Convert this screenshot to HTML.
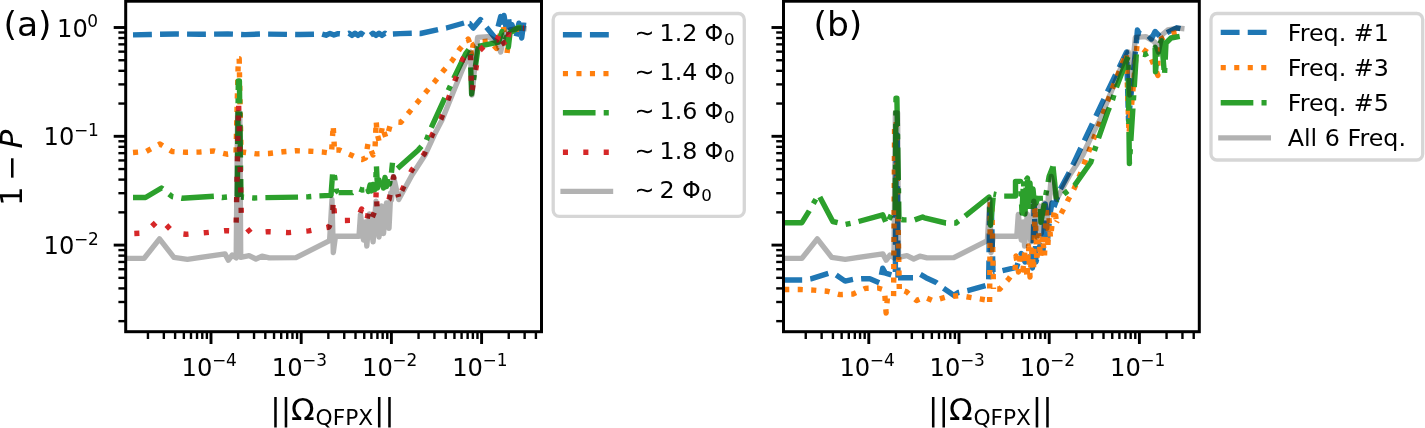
<!DOCTYPE html>
<html><head><meta charset="utf-8"><title>figure</title>
<style>html,body{margin:0;padding:0;background:#fff}svg{display:block}</style></head>
<body>
<svg width="1425" height="428" viewBox="0 0 1425 428" font-family='"DejaVu Sans","Liberation Sans",sans-serif' fill="#000">
<rect width="1425" height="428" fill="#fff"/>
<clipPath id="c125"><rect x="125.7" y="1.2" width="415.8" height="330.5"/></clipPath>
<g clip-path="url(#c125)" fill="none" stroke-width="5.4" stroke-linejoin="round">
<polyline points="133.0,34.9 150.0,34.5 175.0,34.0 200.0,34.3 228.0,34.0 245.0,34.6 262.0,34.0 300.0,34.5 322.0,34.0 326.0,35.2 330.0,33.4 334.0,35.0 338.0,33.6 346.0,34.4" stroke="#1f77b4" stroke-dasharray="18.87 8.16" stroke-dashoffset="0.00"/>
<polyline points="346.0,34.4 349.0,33.2 352.0,35.4 355.0,33.2 358.0,35.4 361.0,33.2 364.0,35.4 367.0,33.2 370.0,35.4 373.0,33.2 376.0,35.4 379.0,33.2 382.0,35.4 385.0,33.2 388.0,35.4 392.0,34.0 400.0,33.6 412.0,33.3" stroke="#1f77b4" stroke-dasharray="18.87 8.16" stroke-dashoffset="24.34"/>
<polyline points="412.0,33.3 420.4,33.5 438.6,29.4 446.3,28.0 464.0,23.0" stroke="#1f77b4" stroke-dasharray="18.87 8.16" stroke-dashoffset="19.43"/>
<polyline points="464.0,23.0 469.5,23.4 473.3,28.1 480.5,19.5 486.0,26.7 495.8,38.7 497.9,27.4 500.7,16.5 502.0,26.0 504.0,15.5 506.0,27.0 508.4,17.5 510.0,28.0 511.9,24.6 516.1,37.3 518.9,23.2 521.7,38.0 523.8,22.5" stroke="#1f77b4" stroke-dasharray="18.87 8.16" stroke-dashoffset="21.52"/>
<polyline points="133.0,152.5 146.0,151.5 160.0,144.0 172.0,151.5 186.0,152.3 200.0,152.0 214.0,151.0 227.0,154.2 236.0,153.0 238.3,58.8 239.2,58.8 241.0,152.0" stroke="#ff7f0e" stroke-dasharray="5.10 8.41" stroke-dashoffset="0.00"/>
<polyline points="241.0,152.0 243.5,152.2 257.0,153.9 269.0,153.5 283.0,151.8 296.0,150.7 310.0,151.2 323.4,152.1 331.5,153.2 333.2,125.3 334.5,150.0" stroke="#ff7f0e" stroke-dasharray="5.10 8.41" stroke-dashoffset="13.48"/>
<polyline points="334.5,150.0 339.2,149.9 351.5,155.2 359.4,159.1 362.0,159.5 365.5,158.0 368.0,143.5 371.0,150.0 373.0,155.0 375.1,146.5 376.2,121.0 377.0,133.0 379.0,141.0 380.5,138.0 382.4,126.0 384.0,132.0 386.0,138.0 388.0,133.0 390.0,126.0 391.9,121.8" stroke="#ff7f0e" stroke-dasharray="5.10 8.41" stroke-dashoffset="11.65"/>
<polyline points="391.9,121.8 400.9,122.3 409.4,112.0 417.9,101.8 426.4,91.6 435.0,81.3 443.5,70.6 452.0,60.9 459.7,49.0 468.2,39.1 470.5,45.0 471.5,56.0 473.0,45.0 478.0,42.0 490.0,41.0 496.5,48.5 500.0,35.0 503.5,26.7 507.0,53.4 510.0,30.0 521.7,28.8 524.0,28.0" stroke="#ff7f0e" stroke-dasharray="5.10 8.41" stroke-dashoffset="7.00"/>
<polyline points="133.0,197.5 145.5,197.5 161.5,188.0 172.0,196.5 182.0,198.3 214.0,196.2 222.0,197.5 233.0,196.5 237.3,196.0 238.3,81.0 239.4,81.0 241.0,197.0" stroke="#2ca02c" stroke-dasharray="32.64 8.16 5.10 8.16" stroke-dashoffset="0.00"/>
<polyline points="241.0,197.0 254.0,198.0 265.0,197.6 297.6,197.1 308.3,196.8 319.3,195.9 331.0,195.4 332.8,171.0 334.7,177.0 336.4,190.3 338.6,192.6" stroke="#2ca02c" stroke-dasharray="32.64 8.16 5.10 8.16" stroke-dashoffset="29.61"/>
<polyline points="338.6,192.6 352.6,192.6 358.2,188.6 362.0,190.0 365.5,189.8 367.0,186.0 368.5,191.5 370.0,185.0 371.5,191.0 373.0,184.5 374.5,190.0 375.5,186.0 376.4,165.2 377.5,188.0 379.0,180.0 380.5,189.0 382.0,178.5 383.5,188.0 385.0,177.5 386.5,186.5 388.0,176.5 389.5,184.0 391.0,177.0 392.5,162.8" stroke="#2ca02c" stroke-dasharray="32.64 8.16 5.10 8.16" stroke-dashoffset="18.60"/>
<polyline points="392.5,162.8 397.5,168.4 418.3,149.9 425.8,141.5 430.5,129.3 454.6,76.6 465.7,53.6 470.0,48.0 471.6,94.0 478.2,46.4" stroke="#2ca02c" stroke-dasharray="32.64 8.16 5.10 8.16" stroke-dashoffset="46.55"/>
<polyline points="478.2,46.4 498.6,42.2 502.0,31.6 505.0,40.0 507.7,34.5 508.4,47.0 510.0,33.0 518.2,27.4 524.0,27.5" stroke="#2ca02c" stroke-dasharray="32.64 8.16 5.10 8.16" stroke-dashoffset="0.00"/>
<polyline points="134.3,233.5 145.0,233.0 160.0,218.5 174.0,233.0 186.0,234.3 206.0,232.6 226.0,230.6 236.0,231.0 238.6,103.0 241.5,222.0" stroke="#d62728" stroke-dasharray="5.10 15.30" stroke-dashoffset="0.00"/>
<polyline points="241.5,222.0 251.0,233.0 268.0,231.7 288.6,232.6 308.8,230.9 329.0,227.0 332.5,219.0 333.3,199.0 334.5,215.0 337.5,220.6 357.1,220.3 361.6,209.0 364.0,215.0 366.7,221.4 368.9,209.4 371.7,218.6 375.7,209.0 376.2,189.2 377.0,207.0 382.4,206.2 385.0,203.0 389.1,199.5 393.5,177.0 398.7,197.0" stroke="#d62728" stroke-dasharray="5.10 15.30" stroke-dashoffset="11.62"/>
<polyline points="398.7,197.0 411.8,170.1 424.5,153.6 432.3,134.6 441.0,119.0 462.8,59.0 470.5,49.9 471.6,93.0 478.9,51.3 489.5,40.8 497.0,40.0 500.7,31.0 502.0,40.0 507.0,48.5 509.1,31.0 520.0,28.0 524.0,28.0" stroke="#d62728" stroke-dasharray="5.10 15.30" stroke-dashoffset="13.39"/>
<polyline points="126.0,258.4 144.1,258.4 159.5,238.8 173.9,257.3 187.4,259.3 225.0,253.9 228.4,260.1 232.3,255.0 236.2,257.9 237.6,113.0 239.8,113.0 240.7,257.3 249.1,255.6 255.9,259.0 262.0,256.2 269.3,257.9 296.0,257.6 329.6,240.7 332.0,199.5 333.3,252.5 335.5,236.0 359.0,236.2 360.5,214.5 363.5,240.0 365.5,222.0 366.8,246.0 369.5,214.0 373.1,241.9 376.0,201.2 379.0,237.0 381.5,206.0 383.5,233.5 386.5,203.0 389.0,228.4 390.7,193.0 391.5,200.0 393.5,176.5 398.7,199.5 412.0,175.0 425.0,155.0 434.2,135.0 442.0,120.0 463.0,68.0 470.5,52.0 472.0,95.0 477.6,37.4 488.0,36.6 497.0,42.0 500.7,52.0 504.0,35.0 510.0,30.0 520.3,28.1 524.0,28.5" stroke="rgba(0,0,0,0.3)" stroke-linecap="square"/>
</g>
<g stroke="#000"><line x1="147.95" y1="331.7" x2="147.95" y2="339.00" stroke-width="2.4"/><line x1="163.84" y1="331.7" x2="163.84" y2="339.00" stroke-width="2.4"/><line x1="175.11" y1="331.7" x2="175.11" y2="339.00" stroke-width="2.4"/><line x1="183.85" y1="331.7" x2="183.85" y2="339.00" stroke-width="2.4"/><line x1="190.99" y1="331.7" x2="190.99" y2="339.00" stroke-width="2.4"/><line x1="197.03" y1="331.7" x2="197.03" y2="339.00" stroke-width="2.4"/><line x1="202.26" y1="331.7" x2="202.26" y2="339.00" stroke-width="2.4"/><line x1="206.87" y1="331.7" x2="206.87" y2="339.00" stroke-width="2.4"/><line x1="211.00" y1="331.7" x2="211.00" y2="344.00" stroke-width="2.9"/><line x1="238.15" y1="331.7" x2="238.15" y2="339.00" stroke-width="2.4"/><line x1="254.04" y1="331.7" x2="254.04" y2="339.00" stroke-width="2.4"/><line x1="265.31" y1="331.7" x2="265.31" y2="339.00" stroke-width="2.4"/><line x1="274.05" y1="331.7" x2="274.05" y2="339.00" stroke-width="2.4"/><line x1="281.19" y1="331.7" x2="281.19" y2="339.00" stroke-width="2.4"/><line x1="287.23" y1="331.7" x2="287.23" y2="339.00" stroke-width="2.4"/><line x1="292.46" y1="331.7" x2="292.46" y2="339.00" stroke-width="2.4"/><line x1="297.07" y1="331.7" x2="297.07" y2="339.00" stroke-width="2.4"/><line x1="301.20" y1="331.7" x2="301.20" y2="344.00" stroke-width="2.9"/><line x1="328.35" y1="331.7" x2="328.35" y2="339.00" stroke-width="2.4"/><line x1="344.24" y1="331.7" x2="344.24" y2="339.00" stroke-width="2.4"/><line x1="355.51" y1="331.7" x2="355.51" y2="339.00" stroke-width="2.4"/><line x1="364.25" y1="331.7" x2="364.25" y2="339.00" stroke-width="2.4"/><line x1="371.39" y1="331.7" x2="371.39" y2="339.00" stroke-width="2.4"/><line x1="377.43" y1="331.7" x2="377.43" y2="339.00" stroke-width="2.4"/><line x1="382.66" y1="331.7" x2="382.66" y2="339.00" stroke-width="2.4"/><line x1="387.27" y1="331.7" x2="387.27" y2="339.00" stroke-width="2.4"/><line x1="391.40" y1="331.7" x2="391.40" y2="344.00" stroke-width="2.9"/><line x1="418.55" y1="331.7" x2="418.55" y2="339.00" stroke-width="2.4"/><line x1="434.44" y1="331.7" x2="434.44" y2="339.00" stroke-width="2.4"/><line x1="445.71" y1="331.7" x2="445.71" y2="339.00" stroke-width="2.4"/><line x1="454.45" y1="331.7" x2="454.45" y2="339.00" stroke-width="2.4"/><line x1="461.59" y1="331.7" x2="461.59" y2="339.00" stroke-width="2.4"/><line x1="467.63" y1="331.7" x2="467.63" y2="339.00" stroke-width="2.4"/><line x1="472.86" y1="331.7" x2="472.86" y2="339.00" stroke-width="2.4"/><line x1="477.47" y1="331.7" x2="477.47" y2="339.00" stroke-width="2.4"/><line x1="481.60" y1="331.7" x2="481.60" y2="344.00" stroke-width="2.9"/><line x1="508.75" y1="331.7" x2="508.75" y2="339.00" stroke-width="2.4"/><line x1="524.64" y1="331.7" x2="524.64" y2="339.00" stroke-width="2.4"/><line x1="535.91" y1="331.7" x2="535.91" y2="339.00" stroke-width="2.4"/><line x1="125.7" y1="321.15" x2="118.40" y2="321.15" stroke-width="2.4"/><line x1="125.7" y1="301.99" x2="118.40" y2="301.99" stroke-width="2.4"/><line x1="125.7" y1="288.40" x2="118.40" y2="288.40" stroke-width="2.4"/><line x1="125.7" y1="277.85" x2="118.40" y2="277.85" stroke-width="2.4"/><line x1="125.7" y1="269.24" x2="118.40" y2="269.24" stroke-width="2.4"/><line x1="125.7" y1="261.95" x2="118.40" y2="261.95" stroke-width="2.4"/><line x1="125.7" y1="255.64" x2="118.40" y2="255.64" stroke-width="2.4"/><line x1="125.7" y1="250.08" x2="118.40" y2="250.08" stroke-width="2.4"/><line x1="125.7" y1="245.10" x2="113.70" y2="245.10" stroke-width="2.9"/><line x1="125.7" y1="212.35" x2="118.40" y2="212.35" stroke-width="2.4"/><line x1="125.7" y1="193.19" x2="118.40" y2="193.19" stroke-width="2.4"/><line x1="125.7" y1="179.60" x2="118.40" y2="179.60" stroke-width="2.4"/><line x1="125.7" y1="169.05" x2="118.40" y2="169.05" stroke-width="2.4"/><line x1="125.7" y1="160.44" x2="118.40" y2="160.44" stroke-width="2.4"/><line x1="125.7" y1="153.15" x2="118.40" y2="153.15" stroke-width="2.4"/><line x1="125.7" y1="146.84" x2="118.40" y2="146.84" stroke-width="2.4"/><line x1="125.7" y1="141.28" x2="118.40" y2="141.28" stroke-width="2.4"/><line x1="125.7" y1="136.30" x2="113.70" y2="136.30" stroke-width="2.9"/><line x1="125.7" y1="103.55" x2="118.40" y2="103.55" stroke-width="2.4"/><line x1="125.7" y1="84.39" x2="118.40" y2="84.39" stroke-width="2.4"/><line x1="125.7" y1="70.80" x2="118.40" y2="70.80" stroke-width="2.4"/><line x1="125.7" y1="60.25" x2="118.40" y2="60.25" stroke-width="2.4"/><line x1="125.7" y1="51.64" x2="118.40" y2="51.64" stroke-width="2.4"/><line x1="125.7" y1="44.35" x2="118.40" y2="44.35" stroke-width="2.4"/><line x1="125.7" y1="38.04" x2="118.40" y2="38.04" stroke-width="2.4"/><line x1="125.7" y1="32.48" x2="118.40" y2="32.48" stroke-width="2.4"/><line x1="125.7" y1="27.50" x2="113.70" y2="27.50" stroke-width="2.9"/></g>
<rect x="125.7" y="1.2" width="415.8" height="330.5" fill="none" stroke="#000" stroke-width="3.0"/>
<text x="181.6" y="375.6" font-size="24.2">10</text>
<text x="211.9" y="366.2" font-size="16.94">−4</text>
<text x="271.8" y="375.6" font-size="24.2">10</text>
<text x="302.1" y="366.2" font-size="16.94">−3</text>
<text x="362.0" y="375.6" font-size="24.2">10</text>
<text x="392.3" y="366.2" font-size="16.94">−2</text>
<text x="452.2" y="375.6" font-size="24.2">10</text>
<text x="482.5" y="366.2" font-size="16.94">−1</text>
<clipPath id="c783"><rect x="783.5" y="1.2" width="415.79999999999995" height="330.5"/></clipPath>
<g clip-path="url(#c783)" fill="none" stroke-width="5.4" stroke-linejoin="round">
<polyline points="783.3,280.0 802.5,280.0 810.9,278.8 828.8,273.2 836.1,274.9 845.1,281.1 853.0,279.4 861.4,278.8 869.8,278.8 879.4,282.8 881.1,276.6 882.7,268.2 885.5,273.2 893.4,275.5 895.3,276.0 896.3,135.0 897.2,135.0 898.0,277.7" stroke="#1f77b4" stroke-dasharray="18.87 8.16" stroke-dashoffset="0.00"/>
<polyline points="898.0,277.7 913.6,277.7 920.4,274.4 926.0,277.7 935.7,282.2 942.5,287.5 953.7,295.3 958.2,292.5 967.7,290.6 986.0,285.5 988.6,284.0 989.8,201.0 991.2,201.0 993.0,272.0" stroke="#1f77b4" stroke-dasharray="18.87 8.16" stroke-dashoffset="3.87"/>
<polyline points="993.0,272.0 1002.5,270.7 1016.5,267.4 1021.3,253.5 1025.0,262.0 1029.0,257.0 1032.5,268.0 1034.2,204.0 1036.0,262.0 1040.0,245.0 1043.0,252.0 1045.3,204.0 1047.0,246.0 1050.0,214.0 1052.0,203.0 1054.0,207.0" stroke="#1f77b4" stroke-dasharray="18.87 8.16" stroke-dashoffset="17.44"/>
<polyline points="1054.0,207.0 1060.4,189.1 1069.9,171.1 1110.1,86.1 1126.6,52.0 1128.5,120.0 1136.6,40.0 1137.4,30.0 1139.0,33.0 1147.7,35.2 1151.4,39.0 1155.1,31.5 1159.8,36.2 1165.4,33.4 1176.6,27.8 1180.4,28.7" stroke="#1f77b4" stroke-dasharray="18.87 8.16" stroke-dashoffset="8.02"/>
<polyline points="784.2,289.5 800.0,289.5 813.5,290.1 826.9,291.2 840.1,294.6 853.0,294.0 865.3,288.4 877.9,288.0 884.5,290.0 886.1,313.0 887.5,297.0 893.6,297.2 894.6,122.0 896.2,122.0 899.3,289.0" stroke="#ff7f0e" stroke-dasharray="5.10 8.41" stroke-dashoffset="0.00"/>
<polyline points="899.3,289.0 906.6,291.8 916.5,300.5 924.2,297.1 933.2,300.8 946.1,297.0 959.3,295.6 972.8,297.8 985.1,299.8 989.6,304.0 990.3,201.0 991.8,201.0 993.5,289.0" stroke="#ff7f0e" stroke-dasharray="5.10 8.41" stroke-dashoffset="7.94"/>
<polyline points="993.5,289.0 999.7,289.1 1008.7,279.0 1015.0,270.0 1016.0,256.0 1018.5,272.0 1021.0,252.0 1023.0,270.0 1025.0,250.0 1027.0,278.0 1028.5,246.0 1030.0,277.0 1032.0,250.0 1033.5,270.0 1035.0,206.0 1036.8,262.0 1038.5,232.0 1040.5,258.0 1042.5,236.0 1044.5,256.0 1046.2,206.0 1047.8,248.0 1049.0,218.0 1050.5,238.0 1052.0,225.0 1054.8,209.2 1056.5,222.3" stroke="#ff7f0e" stroke-dasharray="5.10 8.41" stroke-dashoffset="9.81"/>
<polyline points="1056.5,222.3 1062.2,211.6 1067.9,200.2 1074.5,187.9 1079.3,176.4 1098.6,125.8 1112.7,87.7 1126.3,53.0 1129.0,134.0 1137.0,45.0 1149.5,53.9 1157.9,75.4 1157.9,40.8 1169.2,34.3 1180.4,32.0" stroke="#ff7f0e" stroke-dasharray="5.10 8.41" stroke-dashoffset="3.51"/>
<polyline points="783.3,222.7 801.9,222.7 809.2,210.9 818.5,194.6 832.8,221.5 845.1,224.4 856.4,222.1 882.7,214.8 886.7,224.4 892.3,212.6 895.2,213.0 896.0,98.3 896.9,98.3 899.0,219.0" stroke="#2ca02c" stroke-dasharray="32.64 8.16 5.10 8.16" stroke-dashoffset="0.00"/>
<polyline points="899.0,219.0 903.5,219.9 914.7,219.9 922.6,217.0 924.5,217.9 945.8,223.0 955.9,223.0 964.9,216.2 989.0,197.0 990.5,225.2 993.5,194.0" stroke="#2ca02c" stroke-dasharray="32.64 8.16 5.10 8.16" stroke-dashoffset="38.27"/>
<polyline points="993.5,194.0 1004.1,196.1 1015.5,196.1 1015.5,181.4 1020.5,181.4 1022.0,213.0 1023.5,181.0 1025.0,214.0 1026.5,179.5 1027.5,178.1 1028.5,213.0 1030.0,183.0 1031.5,210.0 1033.0,189.0 1034.5,205.0 1036.0,203.0 1040.1,192.0 1040.9,222.3 1049.1,176.5 1053.0,166.5" stroke="#2ca02c" stroke-dasharray="32.64 8.16 5.10 8.16" stroke-dashoffset="43.15"/>
<polyline points="1053.0,166.5 1056.5,200.5" stroke="#2ca02c" stroke-dasharray="32.64 8.16 5.10 8.16" stroke-dashoffset="54.06"/>
<polyline points="1056.5,200.5 1065.5,192.8 1074.5,185.5 1090.8,162.3 1094.7,149.9 1098.6,137.8 1107.6,112.1 1112.7,99.3 1115.3,90.3 1128.0,56.7 1129.4,163.5 1136.4,53.0 1144.9,54.5 1150.0,52.0 1155.1,47.4 1155.5,71.7 1158.0,46.0 1161.7,40.8 1164.5,75.4 1166.0,43.0 1171.0,38.0 1180.4,36.2" stroke="#2ca02c" stroke-dasharray="32.64 8.16 5.10 8.16" stroke-dashoffset="31.14"/>
<polyline points="783.8,258.4 801.9,258.4 817.3,238.8 831.7,257.3 845.2,259.3 882.8,253.9 886.2,260.1 890.1,255.0 894.0,257.9 895.4,113.0 897.6,113.0 898.5,257.3 906.9,255.6 913.7,259.0 919.8,256.2 927.1,257.9 953.8,257.6 987.4,240.7 989.8,199.5 991.1,252.5 993.3,236.0 1016.8,236.2 1018.3,214.5 1021.3,240.0 1023.3,222.0 1024.6,246.0 1027.3,214.0 1030.9,241.9 1033.8,201.2 1036.8,237.0 1039.3,206.0 1041.3,233.5 1044.3,203.0 1046.8,228.4 1048.5,193.0 1049.3,200.0 1051.3,176.5 1056.5,199.5 1069.8,175.0 1082.8,155.0 1092.0,135.0 1099.8,120.0 1120.8,68.0 1128.3,52.0 1129.8,95.0 1135.4,37.4 1145.8,36.6 1154.8,42.0 1158.5,52.0 1161.8,35.0 1167.8,30.0 1178.1,28.1 1181.8,28.5" stroke="rgba(0,0,0,0.3)" stroke-linecap="square"/>
</g>
<g stroke="#000"><line x1="805.75" y1="331.7" x2="805.75" y2="339.00" stroke-width="2.4"/><line x1="821.64" y1="331.7" x2="821.64" y2="339.00" stroke-width="2.4"/><line x1="832.91" y1="331.7" x2="832.91" y2="339.00" stroke-width="2.4"/><line x1="841.65" y1="331.7" x2="841.65" y2="339.00" stroke-width="2.4"/><line x1="848.79" y1="331.7" x2="848.79" y2="339.00" stroke-width="2.4"/><line x1="854.83" y1="331.7" x2="854.83" y2="339.00" stroke-width="2.4"/><line x1="860.06" y1="331.7" x2="860.06" y2="339.00" stroke-width="2.4"/><line x1="864.67" y1="331.7" x2="864.67" y2="339.00" stroke-width="2.4"/><line x1="868.80" y1="331.7" x2="868.80" y2="344.00" stroke-width="2.9"/><line x1="895.95" y1="331.7" x2="895.95" y2="339.00" stroke-width="2.4"/><line x1="911.84" y1="331.7" x2="911.84" y2="339.00" stroke-width="2.4"/><line x1="923.11" y1="331.7" x2="923.11" y2="339.00" stroke-width="2.4"/><line x1="931.85" y1="331.7" x2="931.85" y2="339.00" stroke-width="2.4"/><line x1="938.99" y1="331.7" x2="938.99" y2="339.00" stroke-width="2.4"/><line x1="945.03" y1="331.7" x2="945.03" y2="339.00" stroke-width="2.4"/><line x1="950.26" y1="331.7" x2="950.26" y2="339.00" stroke-width="2.4"/><line x1="954.87" y1="331.7" x2="954.87" y2="339.00" stroke-width="2.4"/><line x1="959.00" y1="331.7" x2="959.00" y2="344.00" stroke-width="2.9"/><line x1="986.15" y1="331.7" x2="986.15" y2="339.00" stroke-width="2.4"/><line x1="1002.04" y1="331.7" x2="1002.04" y2="339.00" stroke-width="2.4"/><line x1="1013.31" y1="331.7" x2="1013.31" y2="339.00" stroke-width="2.4"/><line x1="1022.05" y1="331.7" x2="1022.05" y2="339.00" stroke-width="2.4"/><line x1="1029.19" y1="331.7" x2="1029.19" y2="339.00" stroke-width="2.4"/><line x1="1035.23" y1="331.7" x2="1035.23" y2="339.00" stroke-width="2.4"/><line x1="1040.46" y1="331.7" x2="1040.46" y2="339.00" stroke-width="2.4"/><line x1="1045.07" y1="331.7" x2="1045.07" y2="339.00" stroke-width="2.4"/><line x1="1049.20" y1="331.7" x2="1049.20" y2="344.00" stroke-width="2.9"/><line x1="1076.35" y1="331.7" x2="1076.35" y2="339.00" stroke-width="2.4"/><line x1="1092.24" y1="331.7" x2="1092.24" y2="339.00" stroke-width="2.4"/><line x1="1103.51" y1="331.7" x2="1103.51" y2="339.00" stroke-width="2.4"/><line x1="1112.25" y1="331.7" x2="1112.25" y2="339.00" stroke-width="2.4"/><line x1="1119.39" y1="331.7" x2="1119.39" y2="339.00" stroke-width="2.4"/><line x1="1125.43" y1="331.7" x2="1125.43" y2="339.00" stroke-width="2.4"/><line x1="1130.66" y1="331.7" x2="1130.66" y2="339.00" stroke-width="2.4"/><line x1="1135.27" y1="331.7" x2="1135.27" y2="339.00" stroke-width="2.4"/><line x1="1139.40" y1="331.7" x2="1139.40" y2="344.00" stroke-width="2.9"/><line x1="1166.55" y1="331.7" x2="1166.55" y2="339.00" stroke-width="2.4"/><line x1="1182.44" y1="331.7" x2="1182.44" y2="339.00" stroke-width="2.4"/><line x1="1193.71" y1="331.7" x2="1193.71" y2="339.00" stroke-width="2.4"/><line x1="783.5" y1="321.15" x2="776.20" y2="321.15" stroke-width="2.4"/><line x1="783.5" y1="301.99" x2="776.20" y2="301.99" stroke-width="2.4"/><line x1="783.5" y1="288.40" x2="776.20" y2="288.40" stroke-width="2.4"/><line x1="783.5" y1="277.85" x2="776.20" y2="277.85" stroke-width="2.4"/><line x1="783.5" y1="269.24" x2="776.20" y2="269.24" stroke-width="2.4"/><line x1="783.5" y1="261.95" x2="776.20" y2="261.95" stroke-width="2.4"/><line x1="783.5" y1="255.64" x2="776.20" y2="255.64" stroke-width="2.4"/><line x1="783.5" y1="250.08" x2="776.20" y2="250.08" stroke-width="2.4"/><line x1="783.5" y1="245.10" x2="771.50" y2="245.10" stroke-width="2.9"/><line x1="783.5" y1="212.35" x2="776.20" y2="212.35" stroke-width="2.4"/><line x1="783.5" y1="193.19" x2="776.20" y2="193.19" stroke-width="2.4"/><line x1="783.5" y1="179.60" x2="776.20" y2="179.60" stroke-width="2.4"/><line x1="783.5" y1="169.05" x2="776.20" y2="169.05" stroke-width="2.4"/><line x1="783.5" y1="160.44" x2="776.20" y2="160.44" stroke-width="2.4"/><line x1="783.5" y1="153.15" x2="776.20" y2="153.15" stroke-width="2.4"/><line x1="783.5" y1="146.84" x2="776.20" y2="146.84" stroke-width="2.4"/><line x1="783.5" y1="141.28" x2="776.20" y2="141.28" stroke-width="2.4"/><line x1="783.5" y1="136.30" x2="771.50" y2="136.30" stroke-width="2.9"/><line x1="783.5" y1="103.55" x2="776.20" y2="103.55" stroke-width="2.4"/><line x1="783.5" y1="84.39" x2="776.20" y2="84.39" stroke-width="2.4"/><line x1="783.5" y1="70.80" x2="776.20" y2="70.80" stroke-width="2.4"/><line x1="783.5" y1="60.25" x2="776.20" y2="60.25" stroke-width="2.4"/><line x1="783.5" y1="51.64" x2="776.20" y2="51.64" stroke-width="2.4"/><line x1="783.5" y1="44.35" x2="776.20" y2="44.35" stroke-width="2.4"/><line x1="783.5" y1="38.04" x2="776.20" y2="38.04" stroke-width="2.4"/><line x1="783.5" y1="32.48" x2="776.20" y2="32.48" stroke-width="2.4"/><line x1="783.5" y1="27.50" x2="771.50" y2="27.50" stroke-width="2.9"/></g>
<rect x="783.5" y="1.2" width="415.79999999999995" height="330.5" fill="none" stroke="#000" stroke-width="3.0"/>
<text x="839.4" y="375.6" font-size="24.2">10</text>
<text x="869.7" y="366.2" font-size="16.94">−4</text>
<text x="929.6" y="375.6" font-size="24.2">10</text>
<text x="959.9" y="366.2" font-size="16.94">−3</text>
<text x="1019.8" y="375.6" font-size="24.2">10</text>
<text x="1050.1" y="366.2" font-size="16.94">−2</text>
<text x="1110.0" y="375.6" font-size="24.2">10</text>
<text x="1140.3" y="366.2" font-size="16.94">−1</text>
<text x="57.0" y="36.5" font-size="24.2">10</text>
<text x="87.3" y="27.1" font-size="16.94">0</text>
<text x="43.6" y="145.1" font-size="24.2">10</text>
<text x="73.9" y="135.7" font-size="16.94">−1</text>
<text x="43.6" y="253.9" font-size="24.2">10</text>
<text x="73.9" y="244.5" font-size="16.94">−2</text>
<text x="3.5" y="36.3" font-size="34.5">(a)</text>
<text x="813.5" y="36.3" font-size="34.5">(b)</text>
<text x="270.2" y="419.8" font-size="31.0">||Ω</text>
<text x="315.6" y="425.2" font-size="21.70">QFPX</text>
<text x="373.9" y="419.8" font-size="31.0">||</text>
<text x="928.0" y="419.8" font-size="31.0">||Ω</text>
<text x="973.4" y="425.2" font-size="21.70">QFPX</text>
<text x="1031.7" y="419.8" font-size="31.0">||</text>
<g transform="translate(22.1,167.2) rotate(-90)"><text x="-38.8" y="0" font-size="31.0">1</text><text x="-13.6" y="0" font-size="31.0">−</text><text x="18.6" y="0" font-size="31.0" font-style="italic">P</text></g>
<rect x="553.2" y="13.5" width="191.0999999999999" height="202.8" rx="6" ry="6" fill="#fff" fill-opacity="0.8" stroke="#cccccc" stroke-opacity="0.8" stroke-width="3.3"/>
<line x1="562.9" y1="34.7" x2="610.7" y2="34.7" stroke="#1f77b4" stroke-width="5.4" stroke-dasharray="18.87 8.16"/>
<text x="634.5" y="41.0" font-size="23.8">∼</text>
<text x="659.5" y="41.0" font-size="23.8">1.2</text>
<text x="704.6" y="41.0" font-size="23.8">Φ</text>
<text x="724.0" y="44.6" font-size="16.66">0</text>
<line x1="562.9" y1="73.6" x2="610.7" y2="73.6" stroke="#ff7f0e" stroke-width="5.4" stroke-dasharray="5.10 8.41"/>
<text x="634.5" y="79.9" font-size="23.8">∼</text>
<text x="659.5" y="79.9" font-size="23.8">1.4</text>
<text x="704.6" y="79.9" font-size="23.8">Φ</text>
<text x="724.0" y="83.5" font-size="16.66">0</text>
<line x1="562.9" y1="112.8" x2="610.7" y2="112.8" stroke="#2ca02c" stroke-width="5.4" stroke-dasharray="32.64 8.16 5.10 8.16"/>
<text x="634.5" y="119.1" font-size="23.8">∼</text>
<text x="659.5" y="119.1" font-size="23.8">1.6</text>
<text x="704.6" y="119.1" font-size="23.8">Φ</text>
<text x="724.0" y="122.7" font-size="16.66">0</text>
<line x1="562.9" y1="152.3" x2="610.7" y2="152.3" stroke="#d62728" stroke-width="5.4" stroke-dasharray="5.10 15.30"/>
<text x="634.5" y="158.6" font-size="23.8">∼</text>
<text x="659.5" y="158.6" font-size="23.8">1.8</text>
<text x="704.6" y="158.6" font-size="23.8">Φ</text>
<text x="724.0" y="162.2" font-size="16.66">0</text>
<line x1="560.4" y1="191.4" x2="613.2" y2="191.4" stroke="#000" stroke-opacity="0.3" stroke-width="5.4"/>
<text x="634.5" y="197.7" font-size="23.8">∼</text>
<text x="659.5" y="197.7" font-size="23.8">2</text>
<text x="681.9" y="197.7" font-size="23.8">Φ</text>
<text x="701.3" y="201.3" font-size="16.66">0</text>
<rect x="1211.0" y="13.5" width="211.70000000000005" height="146.5" rx="6" ry="6" fill="#fff" fill-opacity="0.8" stroke="#cccccc" stroke-opacity="0.8" stroke-width="3.3"/>
<line x1="1220.7" y1="32.4" x2="1268.5" y2="32.4" stroke="#1f77b4" stroke-width="5.4" stroke-dasharray="18.87 8.16"/>
<text x="1287.7" y="40.6" font-size="23.8">Freq. #1</text>
<line x1="1220.7" y1="67.6" x2="1268.5" y2="67.6" stroke="#ff7f0e" stroke-width="5.4" stroke-dasharray="5.10 8.41"/>
<text x="1287.7" y="75.8" font-size="23.8">Freq. #3</text>
<line x1="1220.7" y1="102.7" x2="1268.5" y2="102.7" stroke="#2ca02c" stroke-width="5.4" stroke-dasharray="32.64 8.16 5.10 8.16"/>
<text x="1287.7" y="110.9" font-size="23.8">Freq. #5</text>
<line x1="1218.2" y1="137.9" x2="1271.0" y2="137.9" stroke="#000" stroke-opacity="0.3" stroke-width="5.4"/>
<text x="1287.7" y="146.1" font-size="23.8">All 6 Freq.</text>
</svg>
</body></html>
